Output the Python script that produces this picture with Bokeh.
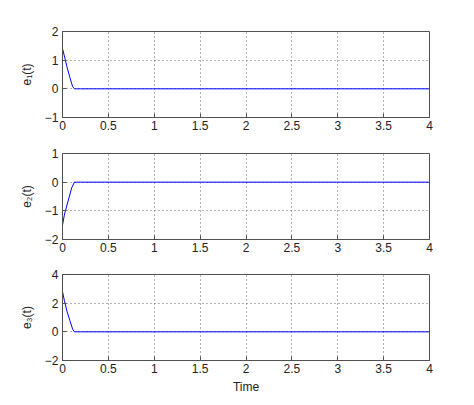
from bokeh.plotting import figure
from bokeh.layouts import column
from bokeh.models import Range1d, FixedTicker
from bokeh.embed import file_html
from bokeh.resources import INLINE

# data
t1 = [0, 0.02, 0.05, 0.08, 0.11, 0.13, 0.2, 4]
e1 = [1.4, 1.15, 0.75, 0.4, 0.08, 0.0, 0.0, 0.0]
t2 = [0, 0.02, 0.04, 0.07, 0.1, 0.13, 0.2, 4]
e2 = [-1.5, -1.15, -0.9, -0.55, -0.2, 0.0, 0.0, 0.0]
t3 = [0, 0.02, 0.05, 0.08, 0.11, 0.13, 0.2, 4]
e3 = [2.8, 2.2, 1.4, 0.8, 0.2, 0.0, 0.0, 0.0]

x_ticks = [0, 0.5, 1, 1.5, 2, 2.5, 3, 3.5, 4]
x_labels = {0: "0", 0.5: "0.5", 1: "1", 1.5: "1.5", 2: "2", 2.5: "2.5", 3: "3", 3.5: "3.5", 4: "4"}
y1_ticks = [-1, 0, 1, 2]
y2_ticks = [-2, -1, 0, 1]
y3_ticks = [-2, 0, 2, 4]

FONT = "Liberation Sans"
AX = "#505050"


def make(t, e, yticks, ylabel, top, bottom, xlabel=None):
    h = top + 86 + bottom
    p = figure(width=458, height=h, output_backend="svg", toolbar_location=None,
               x_range=Range1d(0, 4), y_range=Range1d(yticks[0], yticks[-1]),
               min_border_left=62, min_border_right=29, min_border_top=top,
               min_border_bottom=bottom)
    p.line(t, e, line_color="#0000ff", line_width=1)
    p.xaxis.ticker = FixedTicker(ticks=x_ticks)
    p.xaxis.major_label_overrides = x_labels
    p.yaxis.ticker = FixedTicker(ticks=yticks)
    for ax in (p.xaxis[0], p.yaxis[0]):
        ax.major_tick_in = 4
        ax.major_tick_out = 0
        ax.minor_tick_in = 0
        ax.minor_tick_out = 0
        ax.axis_line_color = AX
        ax.major_tick_line_color = AX
        ax.major_label_text_font = FONT
        ax.major_label_text_font_size = "12px"
        ax.major_label_text_color = "#222222"
        ax.axis_label_text_font = FONT
        ax.axis_label_text_font_size = "12px"
        ax.axis_label_text_font_style = "normal"
        ax.axis_label_text_color = "#222222"
    p.xaxis.major_label_standoff = 3
    p.yaxis.major_label_standoff = 4
    p.yaxis.axis_label = ylabel
    p.yaxis.axis_label_standoff = 8
    if xlabel:
        p.xaxis.axis_label = xlabel
        p.xaxis.axis_label_standoff = 4
    p.xgrid.ticker = FixedTicker(ticks=x_ticks)
    p.ygrid.ticker = FixedTicker(ticks=yticks)
    for g in (p.xgrid[0], p.ygrid[0]):
        g.grid_line_color = "#666666"
        g.grid_line_dash = "1 3"
        g.grid_line_width = 1
    p.outline_line_color = AX
    p.outline_line_alpha = 1
    p.background_fill_color = "white"
    p.border_fill_color = "white"
    return p


p1 = make(t1, e1, y1_ticks, "e₁(t)", 31, 28)
p2 = make(t2, e2, y2_ticks, "e₂(t)", 8, 28)
p3 = make(t3, e3, y3_ticks, "e₃(t)", 7, 38, xlabel="Time")

layout = column(p1, p2, p3, spacing=0)
open("out.html", "w").write(file_html(layout, INLINE))
